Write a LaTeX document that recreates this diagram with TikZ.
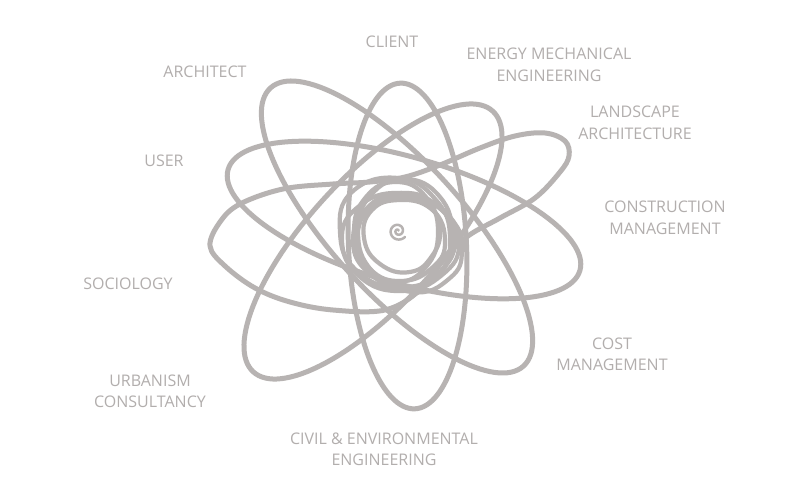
\documentclass[tikz,border=0pt]{standalone}
\usepackage{fontspec}
\setmainfont{Open Sans}
\definecolor{gr}{RGB}{183,179,178}
\definecolor{tx}{RGB}{178,174,173}
\begin{document}
\begin{tikzpicture}[x=1pt,y=1pt]
\tikzset{
  orbit/.style={draw=gr, line width=5pt},
  scrib/.style={draw=gr, line width=4.2pt},
  lab/.style={text=tx, font=\fontsize{16}{21.7}\selectfont, align=center, inner sep=0pt}
}
\useasboundingbox (0,0) rectangle (800,500);
\fill[white] (0,0) rectangle (800,500);
% orbits
\draw[orbit, rotate around={-47.7:(397,273)}] (397,273) ellipse [x radius=188pt, y radius=66pt];
\draw[orbit, rotate around={92.6:(407.5,254)}] (407.5,254) ellipse [x radius=163pt, y radius=59pt];
\draw[orbit, rotate around={47.4:(373,258.5)}] (373,258.5) ellipse [x radius=177pt, y radius=65pt];
\draw[orbit, rotate around={-16:(404,280)}] (404,280) ellipse [x radius=183pt, y radius=63pt];
\draw[orbit] plot[smooth cycle, tension=0.6] coordinates {(210,254) (220,278) (240,296) (283,311) (333,316) (370,318) (405,323) (440,335) (480,352) (515,364) (545,367) (565,359) (569,344) (560,328) (535,302) (500,282) (468,264) (445,242) (420,210) (385,190) (333,190) (290,198) (255,212) (225,234)};
% scribble
\draw[scrib] plot[smooth cycle, tension=0.8] coordinates {(440,270) (430,292) (400,300) (372,290) (364,262) (380,236) (410,228) (432,244)};
\draw[scrib] plot[smooth cycle, tension=0.8] coordinates {(445,259) (432,291) (398,305) (368,293) (356,264) (370,231) (402,219) (433,233)};
\draw[scrib] plot[smooth cycle, tension=0.8] coordinates {(455,263) (437,294) (403,307) (368,292) (353,258) (370,226) (406,213) (441,229)};
\draw[scrib] plot[smooth cycle, tension=0.8] coordinates {(450,262) (436,300) (398,322) (352,308) (340,268) (356,230) (398,212) (438,226)};
\draw[scrib] plot[smooth cycle, tension=0.8] coordinates {(452,264) (440,303) (405,321) (371,305) (358,268) (372,229) (408,211) (440,227)};
\draw[scrib] plot[smooth cycle, tension=0.8] coordinates {(462,250) (452,280) (420,300) (380,298) (358,270) (366,232) (412,208) (450,222)};
\draw[scrib] plot[smooth cycle, tension=0.8] coordinates {(438,268) (426,303) (396,318) (366,303) (354,268) (366,233) (396,218) (426,233)};
\draw[scrib] plot[smooth cycle, tension=0.8] coordinates {(459,256) (442,291) (399,307) (358,293) (342,260) (360,223) (402,209) (442,225)};
% spiral
\draw[gr, line width=2.5pt, line cap=round] plot[domain=40:680, samples=90, smooth, variable=\t] ({398+0.0135*\t*cos(\t)},{269+0.0135*\t*sin(\t)});
% labels
\node[lab] (client) at (392,458) {CLIENT};
\node[lab] (architect) at (205,428) {ARCHITECT};
\node[lab] (user) at (164,339) {USER};
\node[lab] (sociology) at (128,216) {SOCIOLOGY};
\node[lab] (energy) at (549,435.2) {ENERGY MECHANICAL\\ENGINEERING};
\node[lab] (landscape) at (635,377.2) {LANDSCAPE\\ARCHITECTURE};
\node[lab] (construction) at (665,282.2) {CONSTRUCTION\\MANAGEMENT};
\node[lab] (cost) at (612,145.7) {COST\\MANAGEMENT};
\node[lab] (urbanism) at (150,108.7) {URBANISM\\CONSULTANCY};
\node[lab] (civil) at (384,50.7) {CIVIL \& ENVIRONMENTAL\\ENGINEERING};
\end{tikzpicture}
\end{document}
